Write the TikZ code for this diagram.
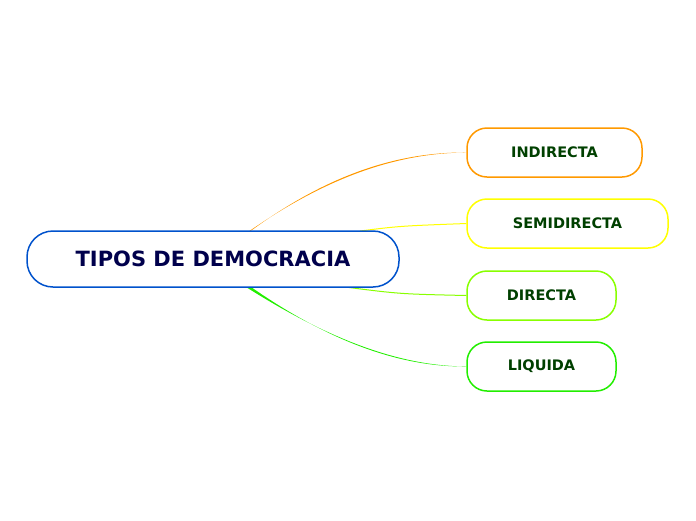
\documentclass[tikz,border=0pt]{standalone}
\usepackage{fontspec}
\setmainfont{DejaVu Sans}
\begin{document}
\begin{tikzpicture}[x=1pt,y=-1pt,
  mainbox/.style={draw=blue!60!cyan!80!black, line width=1.5pt, rounded corners=26pt, minimum width=372pt, minimum height=56pt, fill=white, text=blue!30!black, font=\fontsize{21}{24}\selectfont\bfseries},
  child/.style={line width=1.5pt, rounded corners=20pt, minimum height=49pt, fill=white, text=green!25!black, font=\fontsize{14.5}{17}\selectfont\bfseries},
  conn/.style={line width=1pt}]
\useasboundingbox (0,0) rectangle (696,520);
\definecolor{corange}{HTML}{FF9900}
\definecolor{cyellow}{HTML}{FFFF00}
\definecolor{clime}{HTML}{88FF00}
\definecolor{cgreen}{HTML}{22EE00}
\coordinate (s1) at (250,231);
\coordinate (s2) at (360,231);
\coordinate (s3) at (345,287);
\coordinate (s4) at (248,287);
\node[child, draw=corange, minimum width=175pt] (a) at (554.5,152.5) {INDIRECTA};
\node[child, draw=cyellow, minimum width=201pt] (b) at (567.5,223.5) {SEMIDIRECTA};
\node[child, draw=clime, minimum width=149pt] (c) at (541.5,295.5) {DIRECTA};
\node[child, draw=cgreen, minimum width=149pt] (d) at (541.5,366.5) {LIQUIDA};
\fill[corange] (s1) ++(-2,1) .. controls (330,175) and (400,153) .. (a.west) .. controls (400,152) and (330,173) .. (252,230) -- cycle;
\draw[cyellow, conn] (s2) .. controls (400,226) .. (b.west);
\draw[clime, conn] (s3) .. controls (400,294) .. (c.west);
\fill[cgreen] (s4) ++(-2,0) .. controls (330,340) and (400,366) .. (d.west) .. controls (400,367) and (330,342) .. (251,287) -- cycle;
\node[mainbox] (m) at (213,259) {TIPOS DE DEMOCRACIA};
\end{tikzpicture}
\end{document}
